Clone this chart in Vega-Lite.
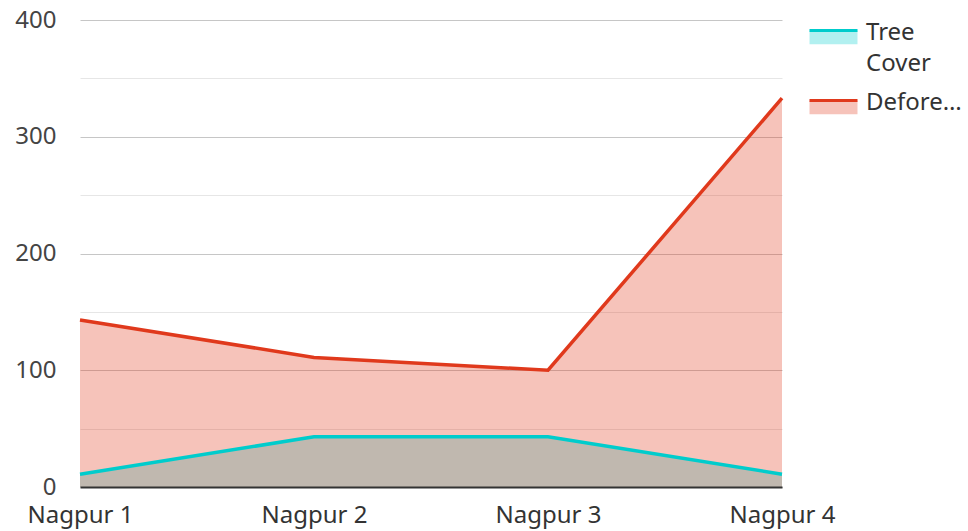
{
  "$schema": "https://vega.github.io/schema/vega-lite/v6.json",
  "width": 702,
  "height": 467,
  "autosize": {"type": "none"},
  "padding": {"left": 80, "top": 20, "right": 186, "bottom": 44},
  "background": "white",
  "config": {
    "font": "Noto Sans",
    "view": {"stroke": null}
  },
  "data": {
    "values": [
      {"district": "Nagpur 1", "series": "Tree Cover", "value": 11},
      {"district": "Nagpur 2", "series": "Tree Cover", "value": 43},
      {"district": "Nagpur 3", "series": "Tree Cover", "value": 43},
      {"district": "Nagpur 4", "series": "Tree Cover", "value": 11},
      {"district": "Nagpur 1", "series": "Deforestation", "value": 143},
      {"district": "Nagpur 2", "series": "Deforestation", "value": 111},
      {"district": "Nagpur 3", "series": "Deforestation", "value": 100},
      {"district": "Nagpur 4", "series": "Deforestation", "value": 333}
    ]
  },
  "encoding": {
    "x": {
      "field": "district",
      "type": "ordinal",
      "scale": {"type": "point", "padding": 0},
      "axis": {
        "title": null,
        "labelAngle": 0,
        "labelFontSize": 24,
        "labelColor": "#333333",
        "labelPadding": 16,
        "ticks": false,
        "domainColor": "#333333",
        "domainWidth": 2,
        "zindex": 1,
        "grid": false
      }
    },
    "y": {
      "field": "value",
      "type": "quantitative",
      "stack": null,
      "scale": {"domain": [0, 400], "nice": false},
      "axis": {
        "title": null,
        "values": [0, 50, 100, 150, 200, 250, 300, 350, 400],
        "labelExpr": "datum.value % 100 === 0 ? datum.label : ''",
        "labelFontSize": 24,
        "labelColor": "#444444",
        "labelPadding": 24,
        "ticks": false,
        "domain": false,
        "gridColor": {"expr": "datum.value % 100 === 0 ? '#c6c6c6' : '#e6e6e6'"},
        "gridWidth": 1
      }
    }
  },
  "layer": [
    {
      "transform": [{"filter": "datum.series === 'Tree Cover'"}],
      "mark": {"type": "area"},
      "encoding": {
        "fill": {
          "field": "series",
          "type": "nominal",
          "scale": {"domain": ["Tree Cover", "Deforestation"], "range": ["rgba(0,204,204,0.3)", "rgba(224,57,28,0.3)"]},
          "legend": {
            "title": null,
            "orient": "none",
            "legendX": 728,
            "legendY": -6,
            "padding": 0,
            "symbolType": "M-1,-0.38H1V0.2H-1Z",
            "symbolSize": 2304,
            "symbolStrokeWidth": 3,
            "symbolDash": [48, 100],
            "symbolOpacity": 1,
            "labelFontSize": 24,
            "labelColor": "#333333",
            "labelLimit": 96,
            "labelOffset": 7,
            "labelBaseline": "alphabetic",
            "labelExpr": "datum.label === 'Tree Cover' ? ['Tree', 'Cover'] : datum.label",
            "rowPadding": 8,
            "encode": {
              "labels": {"update": {"lineHeight": {"value": 31}}}
            }
          }
        }
      }
    },
    {
      "transform": [{"filter": "datum.series === 'Deforestation'"}],
      "mark": {"type": "area"},
      "encoding": {
        "fill": {"field": "series", "type": "nominal"}
      }
    },
    {
      "mark": {"type": "line", "strokeWidth": 3.5},
      "encoding": {
        "stroke": {
          "field": "series",
          "type": "nominal",
          "scale": {"domain": ["Tree Cover", "Deforestation"], "range": ["#00cccc", "#e0391c"]}
        }
      }
    }
  ]
}
